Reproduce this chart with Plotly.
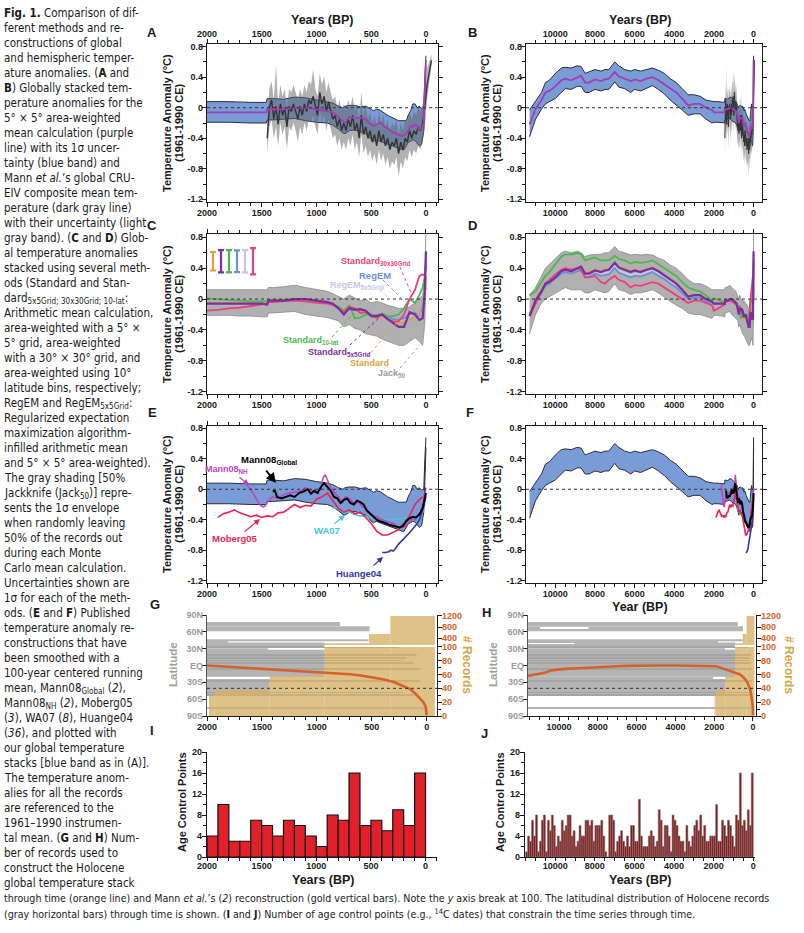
import plotly.graph_objects as go

W, H = 804, 933
FONT = "Liberation Sans"
NARROW = "Liberation Sans Narrow, DejaVu Sans Condensed, Liberation Sans"
INK = "#1a1a1a"

# ---------------- data: global stack (5x5 area-weighted), last 2000 yr ----------------
yrsA = [2000, 1800, 1600, 1460, 1450, 1400, 1300, 1200, 1100, 1000,
        900, 850, 800, 760, 740, 700, 650, 600, 550, 520,
        500, 480, 450, 420, 400, 380, 350, 320, 300, 280,
        250, 220, 200, 180, 160, 140, 120, 100, 80, 60,
        40, 20, 10, 0]
meanA = [-0.06, -0.06, -0.06, -0.06, -0.02, -0.02, -0.02, 0.0, 0.0, -0.02,
         -0.04, -0.06, -0.12, -0.18, -0.2, -0.12, -0.14, -0.13, -0.15, -0.2,
         -0.22, -0.24, -0.22, -0.19, -0.21, -0.25, -0.27, -0.31, -0.33, -0.33,
         -0.36, -0.37, -0.36, -0.34, -0.3, -0.24, -0.25, -0.22, -0.24, -0.28,
         -0.27, -0.2, 0.3, 0.62]
upA = [0.08, 0.08, 0.07, 0.07, 0.12, 0.12, 0.11, 0.14, 0.13, 0.1,
       0.08, 0.06, 0.02, 0.0, 0.02, 0.03, 0.03, 0.01, 0.02, 0.0,
       -0.02, -0.04, -0.02, -0.03, -0.05, -0.08, -0.1, -0.12, -0.13, -0.15,
       -0.17, -0.17, -0.17, -0.17, -0.09, -0.04, 0.05, 0.05, 0.0, 0.02,
       -0.01, 0.0, 0.4, 0.68]
loA = [-0.19, -0.19, -0.2, -0.2, -0.16, -0.16, -0.15, -0.14, -0.17, -0.19,
       -0.2, -0.23, -0.28, -0.33, -0.34, -0.3, -0.29, -0.31, -0.34, -0.38,
       -0.42, -0.44, -0.42, -0.44, -0.45, -0.46, -0.47, -0.49, -0.5, -0.51,
       -0.53, -0.55, -0.55, -0.5, -0.45, -0.44, -0.42, -0.43, -0.47, -0.5,
       -0.48, -0.3, 0.1, 0.55]

# ---------------- Holocene part (older than 2000 BP) ----------------
yrsH = [11300, 11000, 10700, 10500, 10300, 10000, 9700, 9500, 9200, 8900,
        8700, 8500, 8300, 8000, 7700, 7500, 7300, 7000, 6800, 6500,
        6200, 6000, 5700, 5400, 5100, 4800, 4500, 4200, 3900, 3600,
        3300, 3000, 2700, 2400, 2100]
meanH = [-0.22, -0.02, 0.1, 0.2, 0.22, 0.28, 0.36, 0.38, 0.36, 0.4,
         0.42, 0.33, 0.33, 0.37, 0.35, 0.37, 0.38, 0.47, 0.41, 0.38,
         0.35, 0.37, 0.35, 0.38, 0.4, 0.36, 0.31, 0.25, 0.2, 0.12,
         0.03, 0.05, 0.05, 0.0, -0.03]
upH = [-0.03, 0.08, 0.2, 0.33, 0.36, 0.45, 0.52, 0.53, 0.52, 0.55,
       0.54, 0.45, 0.47, 0.5, 0.48, 0.5, 0.5, 0.6, 0.55, 0.5,
       0.48, 0.5, 0.48, 0.5, 0.52, 0.49, 0.45, 0.38, 0.33, 0.25,
       0.17, 0.17, 0.15, 0.1, 0.08]
loH = [-0.38, -0.15, -0.02, 0.05, 0.08, 0.12, 0.2, 0.25, 0.24, 0.28,
       0.28, 0.2, 0.2, 0.24, 0.22, 0.24, 0.24, 0.34, 0.27, 0.25,
       0.2, 0.24, 0.22, 0.26, 0.29, 0.24, 0.18, 0.1, 0.04, -0.03,
       -0.1, -0.08, -0.08, -0.15, -0.2]

# ---------------- Mann et al. CRU-EIV composite ----------------
mannYrs = list(range(1450, -51, -20))
mannMid = [-0.40, 0.00, 0.10, -0.15, 0.02, -0.22, 0.05, -0.10, 0.00, -0.25,
           0.02, -0.05, 0.05, -0.05, -0.15, 0.02, -0.10, 0.05, -0.05, 0.10,
           0.05, 0.15, 0.00, -0.10, 0.20, 0.05, 0.15, -0.05, 0.08, -0.05,
           -0.15, -0.10, -0.25, -0.15, -0.30, -0.20, -0.30, -0.15, -0.25, -0.10,
           -0.30, -0.20, -0.40, -0.10, -0.35, -0.25, -0.40, -0.30, -0.45, -0.35,
           -0.50, -0.30, -0.45, -0.35, -0.50, -0.40, -0.55, -0.45, -0.50, -0.40,
           -0.60, -0.45, -0.55, -0.40, -0.45, -0.30, -0.40, -0.30, -0.35, -0.25,
           -0.30, -0.20, 0.00, 0.30, 0.45, 0.62]
mannUp = [-0.15, 0.25, 0.35, 0.10, 0.55, 0.05, 0.30, 0.15, 0.25, 0.00,
          0.25, 0.20, 0.30, 0.20, 0.10, 0.25, 0.15, 0.30, 0.20, 0.35,
          0.30, 0.50, 0.25, 0.15, 0.45, 0.30, 0.42, 0.20, 0.33, 0.20,
          0.10, 0.15, 0.00, 0.10, -0.05, 0.05, -0.05, 0.10, 0.00, 0.15,
          -0.05, 0.05, -0.15, 0.20, -0.10, 0.05, -0.15, -0.05, -0.20, -0.10,
          -0.25, -0.05, -0.20, -0.10, -0.25, -0.15, -0.30, -0.20, -0.25, -0.15,
          -0.35, -0.20, -0.30, -0.15, -0.20, -0.05, -0.15, -0.05, -0.10, 0.00,
          -0.05, 0.05, 0.25, 0.50, 0.60, 0.70]
mannLo = [-0.60, -0.25, -0.15, -0.40, -0.25, -0.50, -0.20, -0.35, -0.25, -0.55,
          -0.25, -0.30, -0.20, -0.30, -0.45, -0.25, -0.35, -0.20, -0.30, -0.15,
          -0.20, -0.10, -0.25, -0.35, -0.05, -0.20, -0.10, -0.30, -0.15, -0.30,
          -0.40, -0.35, -0.50, -0.40, -0.55, -0.45, -0.55, -0.40, -0.50, -0.35,
          -0.55, -0.45, -0.65, -0.35, -0.60, -0.50, -0.65, -0.55, -0.70, -0.60,
          -0.75, -0.55, -0.70, -0.60, -0.75, -0.65, -0.80, -0.70, -0.75, -0.65,
          -0.90, -0.70, -0.80, -0.65, -0.70, -0.55, -0.65, -0.55, -0.60, -0.50,
          -0.55, -0.45, -0.25, 0.10, 0.30, 0.55]

# ---------------- C: stacking methods, last 2000 yr ----------------
cY = [2000, 1900, 1800, 1700, 1600, 1500, 1450, 1440, 1400, 1300,
      1200, 1100, 1000, 900, 850, 800, 750, 700, 650, 600,
      550, 500, 450, 400, 350, 300, 250, 200, 150, 100,
      60, 30, 10, 0]
cStandard = [-0.05, -0.05, -0.05, -0.05, -0.05, -0.05, -0.06, -0.02, -0.02, -0.02,
             0.0, 0.0, -0.03, -0.05, -0.06, -0.12, -0.19, -0.12, -0.15, -0.17,
             -0.17, -0.22, -0.25, -0.22, -0.27, -0.3, -0.32, -0.3, -0.27, -0.22,
             -0.2, -0.15, 0.05, 0.3]
c5x5 = [-0.06, -0.06, -0.06, -0.06, -0.06, -0.06, -0.07, -0.02, -0.02, -0.02,
        0.0, 0.0, -0.02, -0.04, -0.06, -0.12, -0.2, -0.12, -0.14, -0.13,
        -0.15, -0.22, -0.22, -0.2, -0.26, -0.31, -0.36, -0.36, -0.17, -0.2,
        -0.27, -0.25, 0.1, 0.62]
c10lat = [0.01, 0.0, -0.01, -0.02, -0.03, -0.03, -0.03, -0.01, -0.01, -0.01,
          0.0, 0.0, -0.03, -0.05, -0.07, -0.1, -0.15, -0.08, -0.25, -0.24,
          -0.2, -0.2, -0.24, -0.19, -0.22, -0.22, -0.2, -0.12, 0.0, -0.05,
          0.05, 0.15, 0.3, 0.45]
cRegEM = [-0.06, -0.06, -0.06, -0.06, -0.06, -0.06, -0.07, -0.03, -0.03, -0.02,
          -0.01, 0.0, -0.03, -0.05, -0.07, -0.12, -0.19, -0.13, -0.15, -0.15,
          -0.16, -0.2, -0.21, -0.19, -0.23, -0.26, -0.27, -0.25, -0.2, -0.18,
          -0.22, -0.1, 0.1, 0.15]
cRegEM5 = [-0.07, -0.07, -0.07, -0.07, -0.07, -0.07, -0.08, -0.04, -0.04, -0.03,
           -0.02, -0.01, -0.04, -0.06, -0.08, -0.13, -0.2, -0.14, -0.16, -0.16,
           -0.17, -0.21, -0.22, -0.2, -0.24, -0.27, -0.28, -0.26, -0.22, -0.2,
           -0.24, -0.15, 0.05, 0.2]
c30x30 = [-0.15, -0.14, -0.12, -0.11, -0.09, -0.07, -0.07, -0.04, -0.04, -0.03,
          -0.02, -0.03, -0.05, -0.06, -0.08, -0.12, -0.17, -0.1, -0.12, -0.18,
          -0.17, -0.22, -0.24, -0.2, -0.26, -0.29, -0.29, -0.2, 0.0, 0.12,
          0.3, 0.32, 0.3, 0.5]
cJackUp = [0.12, 0.12, 0.12, 0.12, 0.12, 0.12, 0.12, 0.15, 0.15, 0.16,
           0.18, 0.15, 0.12, 0.1, 0.07, 0.03, 0.0, 0.05, 0.02, -0.02,
           0.0, -0.05, -0.03, -0.05, -0.08, -0.1, -0.12, -0.12, -0.1, -0.05,
           0.0, 0.05, 0.3, 0.9]
cJackLo = [-0.21, -0.21, -0.21, -0.22, -0.22, -0.23, -0.23, -0.18, -0.18, -0.17,
           -0.16, -0.2, -0.22, -0.24, -0.26, -0.28, -0.36, -0.33, -0.38, -0.4,
           -0.45, -0.47, -0.48, -0.52, -0.55, -0.58, -0.6, -0.6, -0.55, -0.5,
           -0.55, -0.6, -0.3, 0.3]
sigmaMethods = [0.12, 0.145, 0.145, 0.14, 0.145, 0.17]

# ---------------- D: stacking methods, Holocene part ----------------
hStandard = [-0.2, 0.0, 0.12, 0.21, 0.24, 0.3, 0.38, 0.4, 0.38, 0.41,
             0.43, 0.35, 0.35, 0.38, 0.36, 0.38, 0.39, 0.46, 0.41, 0.39,
             0.36, 0.38, 0.36, 0.39, 0.4, 0.37, 0.32, 0.26, 0.21, 0.13,
             0.05, 0.06, 0.05, 0.01, -0.02]
h10lat = [0.05, 0.1, 0.22, 0.3, 0.35, 0.45, 0.55, 0.58, 0.58, 0.6,
          0.58, 0.5, 0.52, 0.54, 0.5, 0.5, 0.5, 0.56, 0.52, 0.5,
          0.46, 0.48, 0.47, 0.48, 0.5, 0.45, 0.4, 0.36, 0.3, 0.22,
          0.15, 0.12, 0.1, 0.05, -0.02]
hRegEM = [-0.2, -0.04, 0.08, 0.17, 0.2, 0.26, 0.33, 0.35, 0.33, 0.36,
          0.37, 0.29, 0.29, 0.33, 0.3, 0.31, 0.32, 0.4, 0.34, 0.31,
          0.28, 0.3, 0.29, 0.32, 0.35, 0.3, 0.26, 0.2, 0.15, 0.08,
          0.0, 0.02, 0.02, -0.03, -0.06]
hRegEM5 = [-0.18, -0.03, 0.09, 0.18, 0.21, 0.27, 0.34, 0.36, 0.34, 0.38,
           0.39, 0.3, 0.31, 0.35, 0.32, 0.34, 0.35, 0.43, 0.37, 0.34,
           0.31, 0.33, 0.32, 0.35, 0.37, 0.33, 0.28, 0.22, 0.17, 0.1,
           0.01, 0.03, 0.03, -0.02, -0.05]
h30x30 = [-0.22, -0.05, 0.1, 0.2, 0.25, 0.32, 0.38, 0.4, 0.38, 0.4,
          0.38, 0.28, 0.28, 0.3, 0.22, 0.2, 0.25, 0.3, 0.25, 0.22,
          0.15, 0.18, 0.17, 0.2, 0.22, 0.2, 0.15, 0.1, 0.05, 0.0,
          -0.05, -0.02, -0.02, -0.05, -0.08]
hJackUp = [0.05, 0.15, 0.3, 0.4, 0.45, 0.52, 0.6, 0.62, 0.6, 0.62,
           0.6, 0.55, 0.57, 0.58, 0.58, 0.6, 0.6, 0.68, 0.62, 0.6,
           0.57, 0.58, 0.57, 0.58, 0.57, 0.53, 0.5, 0.44, 0.4, 0.33,
           0.25, 0.2, 0.2, 0.17, 0.12]
hJackLo = [-0.45, -0.2, -0.05, 0.0, 0.03, 0.08, 0.12, 0.15, 0.12, 0.12,
           0.12, 0.08, 0.08, 0.12, 0.1, 0.08, 0.1, 0.2, 0.12, 0.1,
           0.06, 0.08, 0.08, 0.1, 0.12, 0.08, 0.02, -0.03, -0.08, -0.12,
           -0.18, -0.2, -0.2, -0.22, -0.25]

# ---------------- E/F: published reconstructions ----------------
mann08GlobalYrs = [1400, 1380, 1360, 1320, 1280, 1240, 1200, 1160, 1120, 1080,
                   1050, 1020, 990, 960, 930, 900, 870, 840, 810, 780,
                   750, 720, 690, 660, 630, 600, 570, 540, 510, 480,
                   450, 420, 390, 360, 330, 300, 270, 240, 210, 180,
                   150, 120, 90, 60, 30, 0]
mann08Global = [-0.03, -0.02, -0.1, -0.12, -0.1, -0.08, -0.1, -0.05, -0.03, 0.0,
                -0.06, -0.02, -0.05, 0.03, 0.08, 0.03, -0.02, -0.1, -0.12, -0.18,
                -0.14, -0.12, -0.18, -0.2, -0.15, -0.17, -0.2, -0.28, -0.32, -0.37,
                -0.4, -0.42, -0.43, -0.45, -0.47, -0.48, -0.5, -0.5, -0.48, -0.42,
                -0.38, -0.36, -0.37, -0.33, -0.25, -0.05]
mann08NHYrs = [1640, 1600, 1560, 1520, 1490, 1470, 1440, 1400, 1350, 1300,
               1250, 1200, 1150, 1100, 1050, 1000, 960, 940, 920, 900,
               870, 850, 800, 760, 740, 700, 650, 620, 600, 560,
               520, 480, 440, 400, 350, 300, 250, 200, 150, 120,
               100, 80, 50, 20, 0]
mann08NH = [0.06, 0.0, -0.1, -0.2, -0.23, -0.22, -0.15, -0.1, -0.12, -0.07,
            -0.05, -0.04, -0.03, 0.02, -0.02, -0.05, 0.0, 0.15, 0.19, 0.12,
            0.02, -0.02, -0.1, -0.18, -0.1, -0.12, -0.2, -0.15, -0.2, -0.25,
            -0.3, -0.35, -0.37, -0.4, -0.43, -0.45, -0.5, -0.5, -0.42, -0.38,
            -0.4, -0.35, -0.3, -0.15, 0.02]
moberg05Yrs = [1900, 1850, 1800, 1750, 1700, 1650, 1600, 1550, 1500, 1450,
               1400, 1350, 1300, 1250, 1200, 1150, 1100, 1050, 1000, 950,
               900, 850, 800, 750, 700, 650, 600, 550, 500, 450,
               400, 350, 300, 250, 200, 150, 100, 50, 20]
moberg05 = [-0.37, -0.32, -0.3, -0.27, -0.31, -0.33, -0.36, -0.34, -0.37, -0.35,
            -0.36, -0.31, -0.3, -0.25, -0.2, -0.24, -0.21, -0.22, -0.13, -0.1,
            -0.05, -0.15, -0.25, -0.3, -0.27, -0.32, -0.3, -0.37, -0.45, -0.55,
            -0.6, -0.6, -0.56, -0.53, -0.45, -0.35, -0.2, -0.12, -0.1]
wa07Yrs = [860, 800, 750, 700, 650, 600, 550, 500, 450, 400,
           350, 300, 250, 200, 150, 100, 70, 50, 30, 10]
wa07 = [-0.24, -0.25, -0.3, -0.3, -0.33, -0.35, -0.35, -0.38, -0.4, -0.38,
        -0.4, -0.4, -0.39, -0.38, -0.38, -0.36, -0.4, -0.35, -0.3, -0.2]
huange04Yrs = [400, 370, 340, 320, 300, 280, 250, 220, 200, 170,
               150, 120, 100, 80, 60, 40, 20, 0]
huange04 = [-0.83, -0.83, -0.82, -0.8, -0.81, -0.78, -0.72, -0.68, -0.65, -0.6,
            -0.57, -0.52, -0.48, -0.45, -0.4, -0.32, -0.22, -0.1]

# ---------------- G/H: records ----------------
grayLat = [74, 65.5, 45, 42, 36, 29, 23, -1, -22, -39, -76]
grayWidth = [7, 9, 4, 2, 10, 3.5, 10, 38, 4, 30, 2.5]
grayOld = [11600, 11600, 11600, 11600, 11600, 11600, 11600, 11600, 11600, 11600, 11600]
grayYoung = [790, 520, 530, 1810, 930, 1444, 930, 930, 2060, 1430, 0]
thinLat = [33, 18, 13, 9, 5, -6, -27, -48, -52]
thinOld = [11600, 11600, 11600, 11600, 11600, 11600, 11600, 11600, 11600]
thinYoung = [258, 91, 182, 213, 122, 60, 60, 213, 91]
gapLat = [67, 39]
gapOld = [10980, 11580]
gapYoung = [8490, 9180]
mannEdges = [1982, 1930, 1430, 930, 525, 330, -75]
mannCounts = [30, 38, 58, 230, 550, 1190]
nrYrs = [2000, 1900, 1800, 1700, 1600, 1500, 1400, 1300, 1200, 1100,
         1000, 900, 800, 700, 600, 500, 400, 300, 250, 200,
         150, 100, 70, 50, 30, 20, 10, 5, 0]
nrRecords = [73, 72, 71, 70, 69, 68, 67.5, 66.7, 66, 65,
             64, 63, 62, 60.4, 58.5, 56, 53, 49, 46, 43,
             39, 32, 27, 24, 20, 17, 14, 8, 1]
nrHoloYrs = [11600, 11300, 11000, 10700, 10400, 10100, 9800, 9500, 9000, 8500,
             8000, 7500, 7000, 6500, 6000, 5000, 4000, 3000, 2500, 2200]
nrHoloRecords = [58, 59, 61, 63, 66, 67, 68, 68.5, 69, 70,
                 71, 71.5, 72, 72.5, 73, 73, 73, 73, 73, 73]
recTicks = [0, 20, 40, 60, 80, 100, 400, 800, 1200]
latTicks = [-90, -60, -30, 0, 30, 60, 90]
latLabels = ["90S", "60S", "30S", "EQ", "30N", "60N", "90N"]

# ---------------- I/J: age control points ----------------
iYears = list(range(1950, 0, -100))
iCounts = [4, 10, 3, 3, 7, 6, 4, 7, 6, 4, 2, 8, 7, 16, 6, 7, 5, 9, 6, 16]
jYears = list(range(11450, 0, -100))
jHolo = [1, 4, 3, 7, 4, 8, 1, 3, 7,
         8, 1, 7, 5, 8, 6, 2, 4, 3, 7,
         5, 6, 8, 8, 4, 5, 2, 3, 6,
         4, 4, 7, 7, 6, 7, 3, 6, 6, 6,
         7, 4, 1, 0, 8, 8, 7, 1, 3, 4,
         5, 3, 2, 4, 2, 6, 6, 3, 3, 11,
         4, 2, 2, 2, 4, 5, 4, 2, 3, 9,
         7, 2, 6, 6, 4, 1, 8, 7, 6, 4,
         3, 3, 1, 6, 3, 2, 4, 6, 7, 5,
         8, 4, 6, 3, 3, 4, 4]
jCounts = jHolo + iCounts

TEMP_TICKS = [0.8, 0.4, 0, -0.4, -0.8, -1.2]
TEMP_LABELS = ["0.8", "0.4", "0", "-0.4", "-0.8", "-1.2"]
YR2K = [2000, 1500, 1000, 500, 0]
YRHOL = [10000, 8000, 6000, 4000, 2000, 0]

# ---------------- colours ----------------
BLUE = "rgb(122,156,214)"
BAND_EDGE = "#2c2c3a"
PURPLE_A = "#a43cb2"
C_GOLD = "#dca23c"
C_PURPLE = "#7a2fa2"
C_GREEN = "#4cb84c"
C_BLUE = "#6b8fd8"
C_LAV = "#c9c6e8"
C_PINK = "#ea3f80"
JACK = "rgb(176,176,176)"
MAGENTA = "#c13fc0"
RED = "#ee1f55"
CYAN = "#43c6de"
NAVY = "#3434a6"
ORANGE = "#d4622a"
GOLD_TXT = "#d6a646"

# ---------------- helpers ----------------
def ak(kind, n):
    return f"{kind}axis" if n == 1 else f"{kind}axis{n}"

def ar(kind, n):
    return kind if n == 1 else f"{kind}{n}"

def xdom(a, b):
    return [a / W, b / W]

def ydom(top, bottom):
    return [1 - bottom / H, 1 - top / H]

def px(x):
    return x / W

def py(y):
    return 1 - y / H

def base_axis(**kw):
    d = dict(showline=True, linecolor=INK, linewidth=1.3, ticks="outside", ticklen=4,
             tickwidth=1.2, tickcolor=INK, showgrid=False, zeroline=False, fixedrange=True,
             automargin=False,
             tickfont=dict(family=FONT, size=9, color=INK, weight="bold"))
    d.update(kw)
    return d

def minor(dt):
    return dict(ticks="outside", ticklen=2.5, tickwidth=1, tickcolor=INK,
                tickmode="linear", tick0=0, dtick=dt, showgrid=False)

def rec_scale(v):
    return v if v <= 100 else 100 + (v - 100) * 45 / 1100

fig = go.Figure()
layout = dict(width=W, height=H, margin=dict(l=0, r=0, t=0, b=0, autoexpand=False),
              paper_bgcolor="white", template="none",
              plot_bgcolor="rgba(0,0,0,0)", showlegend=False, barmode="overlay",
              font=dict(family=FONT, size=10, color=INK))
ann = []
shapes = []

def line(xs, ys, n, color, width=1.6, dash=None):
    fig.add_trace(go.Scatter(x=xs, y=ys, xaxis=ar("x", n), yaxis=ar("y", n), mode="lines",
                             line=dict(color=color, width=width, dash=dash), hoverinfo="skip"))

def band(xs, up, lo, n, fill, edge, ew=1.0):
    fig.add_trace(go.Scatter(x=xs, y=lo, xaxis=ar("x", n), yaxis=ar("y", n), mode="lines",
                             line=dict(color=edge, width=ew), hoverinfo="skip"))
    fig.add_trace(go.Scatter(x=xs, y=up, xaxis=ar("x", n), yaxis=ar("y", n), mode="lines",
                             line=dict(color=edge, width=ew), fill="tonexty", fillcolor=fill,
                             hoverinfo="skip"))

def text(x, y, s, size=10, color=INK, angle=0, bold=True, xanchor="center", family=FONT):
    ann.append(dict(x=px(x), y=py(y), xref="paper", yref="paper", text=s, showarrow=False,
                    textangle=angle, xanchor=xanchor, yanchor="middle",
                    font=dict(family=family, size=size, color=color,
                              weight="bold" if bold else "normal")))

def arrow(hx, hy, tx, ty, color, width=1.2, head=2):
    ann.append(dict(x=px(hx), y=py(hy), xref="paper", yref="paper", text="", showarrow=True,
                    ax=tx - hx, ay=ty - hy, arrowhead=head, arrowsize=1, arrowwidth=width,
                    arrowcolor=color))

def dotted(x0, y0, x1, y1, color):
    shapes.append(dict(type="line", xref="paper", yref="paper", x0=px(x0), y0=py(y0),
                       x1=px(x1), y1=py(y1), line=dict(color=color, width=1, dash="dot")))

# ---------------- temperature panel axes ----------------
temp_panels = [
    (1, (207, 438), (44, 202), [2000, -110], [-1.235, 0.835], YR2K, 100),
    (3, (526, 762), (44, 202), [11480, -425], [-1.235, 0.835], YRHOL, 500),
    (5, (207, 438), (234, 394), [2000, -110], [-1.23, 0.843], YR2K, 100),
    (6, (526, 762), (234, 394), [11480, -425], [-1.23, 0.843], YRHOL, 500),
    (7, (207, 438), (426, 583), [2000, -110], [-1.23, 0.83], YR2K, 100),
    (8, (526, 762), (426, 583), [11480, -425], [-1.23, 0.83], YRHOL, 500),
]
for n, xp, yp, xr, yr, tv, mstep in temp_panels:
    layout[ak("x", n)] = base_axis(domain=xdom(*xp), range=xr, anchor=ar("y", n), mirror="ticks",
                                   tickmode="array", tickvals=tv, ticktext=[str(v) for v in tv],
                                   minor=minor(mstep), ticklabelstandoff=-2)
    layout[ak("y", n)] = base_axis(domain=ydom(*yp), range=yr, anchor=ar("x", n), mirror="ticks",
                                   tickmode="array", tickvals=TEMP_TICKS, ticktext=TEMP_LABELS,
                                   minor=minor(0.2), ticklabelstandoff=-3)
    shapes.append(dict(type="line", xref=ar("x", n) + " domain", yref=ar("y", n), x0=0, x1=1,
                       y0=0, y1=0, line=dict(color="#333", width=1, dash="dot")))

# top label axes for A and B
for n, base_n, xp, xr, tv in [(2, 1, (207, 438), [2000, -110], YR2K),
                              (4, 3, (526, 762), [11480, -425], YRHOL)]:
    layout[ak("x", n)] = base_axis(domain=xdom(*xp), range=xr, overlaying=ar("x", base_n),
                                   side="top", anchor=ar("y", base_n), showline=False,
                                   tickmode="array", tickvals=tv, ticktext=[str(v) for v in tv],
                                   ticklabelstandoff=-2)
    fig.add_trace(go.Scatter(x=[tv[2]], y=[0], xaxis=ar("x", n), yaxis=ar("y", base_n),
                             mode="markers", marker=dict(size=1, opacity=0), hoverinfo="skip"))

hY = yrsH + yrsA
hMean = meanH + meanA
hUp = upH + upA
hLo = loH + loA

# ---- A ----
band(yrsA, upA, loA, 1, BLUE, BAND_EDGE)
band(mannYrs, mannUp, mannLo, 1, "rgba(100,100,100,0.5)", "rgba(0,0,0,0)", 0)
line(mannYrs, mannMid, 1, "#333333", 1.4)
line(yrsA, meanA, 1, PURPLE_A, 1.8)
# ---- B ----
band(hY, hUp, hLo, 3, BLUE, BAND_EDGE)
band(mannYrs, mannUp, mannLo, 3, "rgba(100,100,100,0.5)", "rgba(0,0,0,0)", 0)
line(mannYrs, mannMid, 3, "#333333", 1.0)
line(hY, hMean, 3, PURPLE_A, 1.8)

# ---- C ----
band(cY, cJackUp, cJackLo, 5, JACK, "#8a8a8a", 0.8)
for ys, col, wd in [(cRegEM5, C_LAV, 1.8), (cRegEM, C_BLUE, 1.8), (cStandard, C_GOLD, 1.8),
                    (c10lat, C_GREEN, 1.8), (c30x30, C_PINK, 1.8), (c5x5, C_PURPLE, 2.2)]:
    line(cY, ys, 5, col, wd)
legend_cols = [C_GOLD, C_PURPLE, C_GREEN, C_BLUE, C_LAV, C_PINK]
for i, (sg, col) in enumerate(zip(sigmaMethods, legend_cols)):
    fig.add_trace(go.Scatter(x=[1945 - 73 * i], y=[0.49], xaxis="x5", yaxis="y5", mode="markers",
                             marker=dict(size=1, color=col),
                             error_y=dict(type="data", array=[sg], symmetric=True, color=col,
                                          thickness=2.2, width=3),
                             hoverinfo="skip"))

# ---- D ----
dY = yrsH + cY
band(dY, hJackUp + cJackUp, hJackLo + cJackLo, 6, JACK, "#8a8a8a", 0.8)
for ys, col, wd in [(hRegEM5 + cRegEM5, C_LAV, 1.8), (hRegEM + cRegEM, C_BLUE, 1.8),
                    (hStandard + cStandard, C_GOLD, 1.8), (h10lat + c10lat, C_GREEN, 1.8),
                    (h30x30 + c30x30, C_PINK, 1.8), (meanH + c5x5, C_PURPLE, 2.2)]:
    line(dY, ys, 6, col, wd)

# ---- E / F ----
for n, xs, up, lo in [(7, yrsA, upA, loA), (8, hY, hUp, hLo)]:
    band(xs, up, lo, n, BLUE, BAND_EDGE)
    line(wa07Yrs, wa07, n, CYAN, 1.6)
    line(huange04Yrs, huange04, n, NAVY, 1.6)
    line(moberg05Yrs, moberg05, n, RED, 1.6)
    line(mann08NHYrs, mann08NH, n, MAGENTA, 1.5)
    line(mann08GlobalYrs, mann08Global, n, "#000000", 2.0)

# ---------------- G / H ----------------
def records_panel(nx, ny, nr, xp, xr, tv, mstep):
    layout[ak("x", nx)] = base_axis(domain=xdom(*xp), range=xr, anchor=ar("y", ny),
                                    tickmode="array", tickvals=tv, ticktext=[str(v) for v in tv],
                                    minor=minor(mstep), ticklabelstandoff=-2)
    layout[ak("y", ny)] = base_axis(domain=ydom(615, 716), range=[-90, 90], anchor=ar("x", nx),
                                    tickmode="array", tickvals=latTicks, ticktext=latLabels,
                                    linecolor="#555", ticklabelstandoff=-3,
                                    tickfont=dict(family=FONT, size=9, color="#9a9a9a", weight="bold"))
    layout[ak("y", nr)] = base_axis(domain=ydom(615, 716), range=[0, 146], anchor=ar("x", nx),
                                    overlaying=ar("y", ny), side="right", ticklabelstandoff=-2,
                                    tickmode="array", tickvals=[rec_scale(v) for v in recTicks],
                                    ticktext=[str(v) for v in recTicks],
                                    minor=dict(ticks="outside", ticklen=2.5, tickwidth=1, tickcolor=INK,
                                               tickmode="array", tickvals=[10, 30, 50, 70, 90]),
                                    tickfont=dict(family=FONT, size=9, color=ORANGE, weight="bold"))
    xa, ya, yr2 = ar("x", nx), ar("y", ny), ar("y", nr)
    fig.add_trace(go.Bar(orientation="h", y=grayLat, x=[o - y for o, y in zip(grayOld, grayYoung)],
                         base=grayYoung, width=grayWidth, xaxis=xa, yaxis=ya,
                         marker=dict(color="rgb(180,180,180)", line=dict(width=0)), hoverinfo="skip"))
    fig.add_trace(go.Bar(orientation="h", y=thinLat, x=[o - y for o, y in zip(thinOld, thinYoung)],
                         base=thinYoung, width=1.5, xaxis=xa, yaxis=ya,
                         marker=dict(color="rgb(165,165,165)", line=dict(width=0)), hoverinfo="skip"))
    fig.add_trace(go.Bar(orientation="h", y=gapLat, x=[o - y for o, y in zip(gapOld, gapYoung)],
                         base=gapYoung, width=1.3, xaxis=xa, yaxis=ya,
                         marker=dict(color="white", line=dict(width=0)), hoverinfo="skip"))
    centers = [(a + b) / 2 for a, b in zip(mannEdges[:-1], mannEdges[1:])]
    widths = [a - b for a, b in zip(mannEdges[:-1], mannEdges[1:])]
    fig.add_trace(go.Bar(x=centers, y=[rec_scale(v) for v in mannCounts], width=widths,
                         xaxis=xa, yaxis=yr2,
                         marker=dict(color="rgba(212,178,104,0.8)", line=dict(width=0)),
                         hoverinfo="skip"))
    shapes.append(dict(type="line", xref=xa, yref=yr2, x0=mannEdges[3], x1=mannEdges[-1],
                       y0=101.3, y1=101.3, line=dict(color="white", width=2)))
    shapes.append(dict(type="line", xref=xa + " domain", yref=yr2, x0=0, x1=1, y0=40, y1=40,
                       line=dict(color="#333", width=1, dash="dot")))
    return xa, yr2

xa, yr2 = records_panel(9, 9, 10, (207, 437), [2000, -94], YR2K, 100)
fig.add_trace(go.Scatter(x=nrYrs, y=[rec_scale(v) for v in nrRecords], xaxis=xa, yaxis=yr2,
                         mode="lines", line=dict(color=ORANGE, width=2.6), hoverinfo="skip"))
xa, yr2 = records_panel(11, 11, 12, (528, 756), [11600, -155], YRHOL, 500)
fig.add_trace(go.Scatter(x=nrHoloYrs + nrYrs, y=[rec_scale(v) for v in nrHoloRecords + nrRecords],
                         xaxis=xa, yaxis=yr2, mode="lines", line=dict(color=ORANGE, width=2.6),
                         hoverinfo="skip"))

# ---------------- I / J ----------------
for n, xp, xr, tv, mstep, xs, ys, fill, edge, ew in [
        (13, (207, 437), [2000, -105], YR2K, 100, iYears, iCounts, "#e2202a", "#111111", 1.2),
        (14, (525, 755), [11530, -90], YRHOL, 500, jYears, jCounts, "#8e1616", "#7a7a7a", 0.6)]:
    layout[ak("x", n)] = base_axis(domain=xdom(*xp), range=xr, anchor=ar("y", n),
                                   tickmode="array", tickvals=tv, ticktext=[str(v) for v in tv],
                                   minor=minor(mstep), ticklen=3, ticklabelstandoff=-3)
    layout[ak("y", n)] = base_axis(domain=ydom(752, 857), range=[0, 20], anchor=ar("x", n),
                                   tickmode="array", tickvals=[0, 4, 8, 12, 16, 20],
                                   ticktext=["0", "4", "8", "12", "16", "20"], minor=minor(2),
                                   ticklabelstandoff=-2)
    fig.add_trace(go.Bar(x=xs, y=ys, width=100, xaxis=ar("x", n), yaxis=ar("y", n),
                         marker=dict(color=fill, line=dict(color=edge, width=ew)), hoverinfo="skip"))

# ---------------- texts ----------------
for lx, ly, s in [(152, 32, "A"), (472, 33, "B"), (152, 225, "C"), (472, 225, "D"),
                  (152, 413, "E"), (470, 413, "F"), (155, 604, "G"), (486, 612, "H"),
                  (152, 730, "I"), (484, 733, "J")]:
    text(lx, ly, s, size=13)
text(322, 20, "Years (BP)", size=12.5)
text(640, 20, "Years (BP)", size=12.5)
text(640, 607, "Year (BP)", size=12.5)
text(323, 880, "Years (BP)", size=12.5)
text(640, 880, "Years (BP)", size=12.5)
for x1, x2, yc in [(167, 179, 123), (485, 497, 123), (167, 179, 314), (485, 497, 314),
                   (167, 179, 504), (485, 497, 504)]:
    text(x1, yc, "Temperature Anomaly (°C)", size=11, angle=-90)
    text(x2, yc, "(1961-1990 CE)", size=11, angle=-90)
text(173, 665, "Latitude", size=11.5, color="#a0a0a0", angle=-90)
text(493, 665, "Latitude", size=11.5, color="#a0a0a0", angle=-90)
text(467, 665, "# Records", size=12, color=GOLD_TXT, angle=90)
text(789, 665, "# Records", size=12, color=GOLD_TXT, angle=90)
text(182, 802, "Age Control Points", size=11, angle=-90)
text(500, 802, "Age Control Points", size=11, angle=-90)

# C labels and leaders
text(376, 262, "Standard<sub>30x30Grid</sub>", size=9, color=C_PINK)
text(375, 275, "RegEM", size=9.5, color=C_BLUE)
text(357, 285, "RegEM<sub>5x5Grid</sub>", size=9, color=C_LAV)
text(311, 340, "Standard<sub>10-lat</sub>", size=9, color=C_GREEN)
text(339, 352, "Standard<sub>5x5Grid</sub>", size=9, color=C_PURPLE)
text(369, 363, "Standard", size=9, color=C_GOLD)
text(392, 373, "Jack<sub>50</sub>", size=9, color="#9a9a9a")
dotted(400, 267, 412, 295, C_PINK)
dotted(383, 280, 403, 300, C_BLUE)
dotted(380, 290, 390, 300, C_LAV)
dotted(332, 337, 357, 310, C_GREEN)
dotted(350, 345, 380, 317, C_PURPLE)
dotted(367, 357, 397, 323, C_GOLD)
dotted(400, 368, 420, 345, "#9a9a9a")

# E labels and arrows
text(269, 460, "Mann08<sub>Global</sub>", size=9.5, color="#000")
text(226, 469, "Mann08<sub>NH</sub>", size=9, color=MAGENTA)
text(235, 538, "Moberg05", size=9.5, color=RED)
text(327, 530, "WA07", size=9.5, color=CYAN)
text(359, 573, "Huange04", size=9.5, color=NAVY)
arrow(276, 483, 265, 469, "#000", 2.0)
arrow(249, 485, 238, 476, MAGENTA)
arrow(260, 519, 243, 533, RED)
arrow(345, 515, 333, 525, CYAN)
arrow(383, 557, 372, 567, NAVY)

# ---------------- caption ----------------
CAPTION = [
    "<b>Fig. 1.</b> Comparison of dif-",
    "ferent methods and re-",
    "constructions of global",
    "and hemispheric temper-",
    "ature anomalies. (<b>A</b> and",
    "<b>B</b>) Globally stacked tem-",
    "perature anomalies for the",
    "5° × 5° area-weighted",
    "mean calculation (purple",
    "line) with its 1σ uncer-",
    "tainty (blue band) and",
    "Mann <i>et al.</i>’s global CRU-",
    "EIV composite mean tem-",
    "perature (dark gray line)",
    "with their uncertainty (light",
    "gray band). (<b>C</b> and <b>D</b>) Glob-",
    "al temperature anomalies",
    "stacked using several meth-",
    "ods (Standard and Stan-",
    "dard<sub>5x5Grid; 30x30Grid; 10-lat</sub>:",
    "Arithmetic mean calculation,",
    "area-weighted with a 5° ×",
    "5° grid, area-weighted",
    "with a 30° × 30° grid, and",
    "area-weighted using 10°",
    "latitude bins, respectively;",
    "RegEM and RegEM<sub>5x5Grid</sub>:",
    "Regularized expectation",
    "maximization algorithm-",
    "infilled arithmetic mean",
    "and 5° × 5° area-weighted).",
    "The gray shading [50%",
    "Jackknife (Jack<sub>50</sub>)] repre-",
    "sents the 1σ envelope",
    "when randomly leaving",
    "50% of the records out",
    "during each Monte",
    "Carlo mean calculation.",
    "Uncertainties shown are",
    "1σ for each of the meth-",
    "ods. (<b>E</b> and <b>F</b>) Published",
    "temperature anomaly re-",
    "constructions that have",
    "been smoothed with a",
    "100-year centered running",
    "mean, Mann08<sub>Global</sub> (<i>2</i>),",
    "Mann08<sub>NH</sub> (<i>2</i>), Moberg05",
    "(<i>3</i>), WA07 (<i>8</i>), Huange04",
    "(<i>36</i>), and plotted with",
    "our global temperature",
    "stacks [blue band as in (A)].",
    "The temperature anom-",
    "alies for all the records",
    "are referenced to the",
    "1961–1990 instrumen-",
    "tal mean. (<b>G</b> and <b>H</b>) Num-",
    "ber of records used to",
    "construct the Holocene",
    "global temperature stack",
]
CAPTION_WIDE = [
    "through time (orange line) and Mann <i>et al.</i>’s (<i>2</i>) reconstruction (gold vertical bars). "
    "Note the <i>y</i> axis break at 100. The latitudinal distribution of Holocene records",
    "(gray horizontal bars) through time is shown. (<b>I</b> and <b>J</b>) Number of age control "
    "points (e.g., <sup>14</sup>C dates) that constrain the time series through time.",
]
for i, s in enumerate(CAPTION):
    text(2, 13.3 + 15.0 * i, s, size=11.5, bold=False, xanchor="left", family=NARROW)
for j, s in enumerate(CAPTION_WIDE):
    text(2, 13.3 + 15.0 * (len(CAPTION) + j), s, size=10.6, bold=False, xanchor="left",
         family=NARROW)

layout["annotations"] = ann
layout["shapes"] = shapes
fig.update_layout(**layout)
fig.write_html("out.html", config={"displayModeBar": False},
               post_script="document.body.style.margin='0px';document.body.style.padding='0px';")
